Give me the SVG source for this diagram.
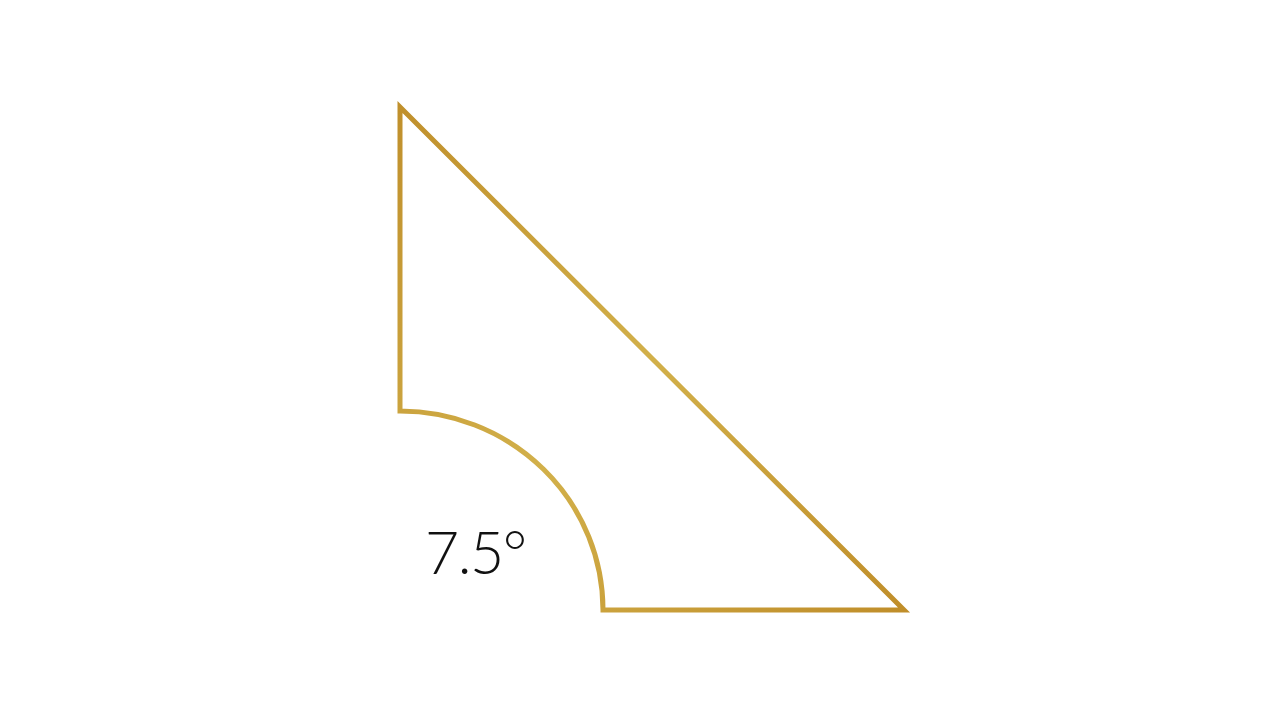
<svg xmlns="http://www.w3.org/2000/svg" width="1280" height="720" viewBox="0 0 1280 720">
<defs>
<linearGradient id="gold" x1="0" y1="0" x2="1" y2="1">
<stop offset="0" stop-color="#c0902c"/>
<stop offset="0.5" stop-color="#d2b04a"/>
<stop offset="1" stop-color="#c08e2a"/>
</linearGradient>
<style>
.shape{fill:none;stroke:url(#gold);stroke-width:5;stroke-linejoin:miter;stroke-miterlimit:20}
.lbl{font-family:Lato,"Liberation Sans",sans-serif;font-size:59px;font-weight:300;fill:#111;letter-spacing:-1.5px}
</style>
</defs>
<rect width="1280" height="720" fill="#ffffff"/>
<g id="sector">
<path class="shape" d="M400,107 L400,411 A203,199 0 0 1 603,610 L904,610 Z"/>
</g>
<g id="label">
<text class="lbl" x="425" y="574">7.5°</text>
</g>
</svg>
